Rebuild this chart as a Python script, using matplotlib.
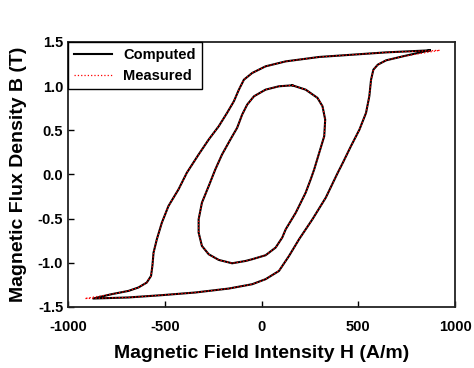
import matplotlib.pyplot as plt

# outer loop, computed: descending branch from the upper tip, then ascending branch back
outer_h = [869, 644, 471, 298, 125, 21, -48, -91, -117, -143, -178, -221, -273, -325, -386, -429,
           -481, -515, -541, -558, -564, -571, -593, -636, -688, -775, -870,
           -688, -515, -343, -169, -48, 21, 90, 142, 194, 263, 332, 393, 419, 462, 506,
           540, 557, 566, 578, 601, 644, 730, 869]
outer_b = [1.405, 1.382, 1.356, 1.330, 1.280, 1.224, 1.149, 1.073, 0.960, 0.828, 0.697, 0.546, 0.395,
           0.226, 0.019, -0.169, -0.358, -0.546, -0.734, -0.885, -1.036, -1.149, -1.224, -1.280,
           -1.319, -1.356, -1.405,
           -1.393, -1.367, -1.337, -1.292, -1.243, -1.186, -1.093, -0.923, -0.734, -0.508, -0.263,
           0.015, 0.127, 0.320, 0.508, 0.697, 0.885, 1.073, 1.186, 1.243, 1.292, 1.337, 1.405]

# inner (minor) loop, computed
inner_h = [159, 228, 289, 315, 329, 324, 298, 272, 254, 228, 177, 125, 107, 73, 21, -48, -83,
           -152, -221, -273, -308, -325, -325, -308, -273, -239, -204, -161, -126, -100, -74,
           -39, 21, 90, 159]
inner_b = [1.009, 0.960, 0.867, 0.772, 0.621, 0.433, 0.245, 0.056, -0.056, -0.207, -0.433,
           -0.621, -0.715, -0.828, -0.915, -0.960, -0.980, -1.006, -0.968, -0.904, -0.810,
           -0.659, -0.508, -0.320, -0.132, 0.056, 0.226, 0.395, 0.528, 0.678, 0.791, 0.885,
           0.960, 0.998, 1.009]

# measured loop runs a little further out at both tips
meas_tip_pos = 920
meas_tip_neg = -913
tip_neg_index = 26

meas_h = list(outer_h)
meas_h[0] = meas_tip_pos
meas_h[-1] = meas_tip_pos
meas_h[tip_neg_index] = meas_tip_neg

plt.rcParams['font.family'] = ['Liberation Sans', 'DejaVu Sans']
plt.rcParams['font.weight'] = 'bold'
plt.rcParams['axes.unicode_minus'] = False

fig = plt.figure(figsize=(4.74, 3.68), dpi=100)
ax = fig.add_axes([0.1435, 0.166, 0.8165, 0.72])

ax.plot(outer_h, outer_b, color='black', lw=1.5, label='Computed')
ax.plot(inner_h, inner_b, color='black', lw=1.5)
ax.plot(meas_h, outer_b, color='red', ls=':', lw=0.9, label='Measured')
ax.plot(inner_h, inner_b, color='red', ls=':', lw=0.9)

ax.set_xlim(-1000, 1000)
ax.set_ylim(-1.5, 1.5)
ax.set_xticks([-1000, -500, 0, 500, 1000])
ax.set_yticks([-1.5, -1.0, -0.5, 0.0, 0.5, 1.0, 1.5])
ax.set_yticklabels(['-1.5', '-1.0', '-0.5', '0.0', '0.5', '1.0', '1.5'])
ax.tick_params(direction='in', labelsize=10.5, length=4, width=1)
ax.tick_params(axis='x', pad=9.5)
ax.tick_params(axis='y', pad=3.5)
for s in ax.spines.values():
    s.set_linewidth(1.3)
    s.set_color('#222222')

ax.set_xlabel('Magnetic Field Intensity H (A/m)', fontsize=14, fontweight='bold', labelpad=8)
ax.set_ylabel('Magnetic Flux Density B (T)', fontsize=14, fontweight='bold', labelpad=8)

leg = ax.legend(loc='upper left', borderaxespad=0, fancybox=False, framealpha=1,
                edgecolor='black', prop={'weight': 'bold', 'size': 10.5}, handlelength=2.6)
leg.get_frame().set_linewidth(1.0)

fig.savefig('out.png', dpi=100)
